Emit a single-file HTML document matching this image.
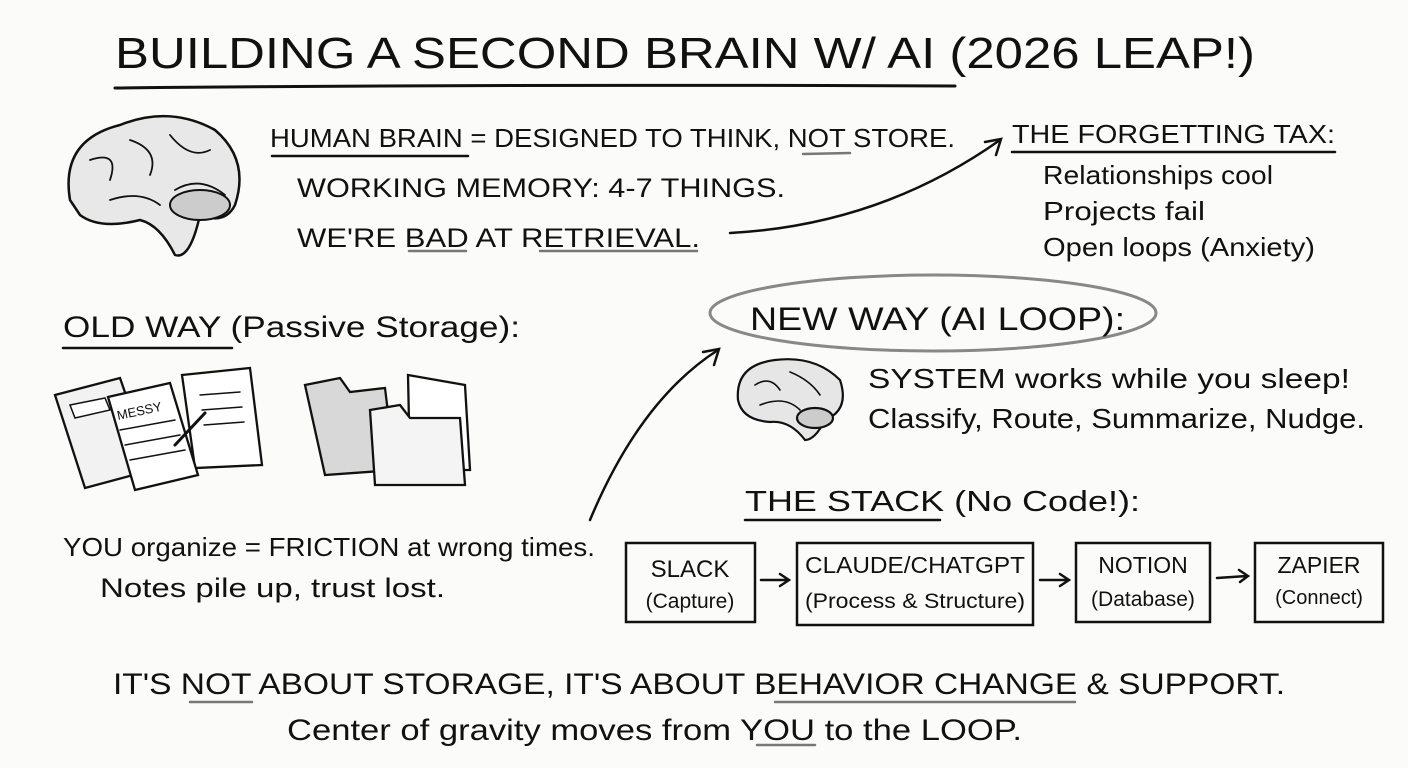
<!DOCTYPE html>
<html><head><meta charset="utf-8"><style>
html,body{margin:0;padding:0;background:#fbfbfa;}
svg{display:block}
text{font-family:"Liberation Sans",sans-serif;fill:#111;}
</style></head><body>
<svg width="1408" height="768" viewBox="0 0 1408 768" xmlns="http://www.w3.org/2000/svg">
<rect width="1408" height="768" fill="#fbfbfa"/>
<g stroke="#111" fill="none" stroke-linecap="round">
<!-- title -->
<path d="M115 88 Q500 84 955 86" stroke-width="3"/>
<!-- underlines -->
<path d="M272 156 L468 156" stroke-width="2.5"/>
<path d="M803 154 L850 153" stroke-width="2.5" stroke="#777"/>
<path d="M409 251 L466 251" stroke-width="2.5" stroke="#777"/>
<path d="M540 251 L697 251" stroke-width="2.5" stroke="#777"/>
<path d="M1012 152 L1335 152" stroke-width="2.5"/>
<path d="M63 348 L232 348" stroke-width="2.5"/>
<path d="M745 520 L940 520" stroke-width="2.5"/>
<path d="M190 702 L252 702" stroke-width="2.5" stroke="#777"/>
<path d="M775 702 L1075 702" stroke-width="2.5" stroke="#777"/>
<path d="M757 745 L815 745" stroke-width="2.5" stroke="#777"/>
<!-- arrows -->
<path d="M730 233 Q880 225 1000 140" stroke-width="2.5"/>
<path d="M985 142 L1001 139 L996 155" stroke-width="2.5"/>
<path d="M590 520 Q640 400 718 350" stroke-width="2.5"/>
<path d="M703 352 L719 349 L714 365" stroke-width="2.5"/>
<!-- ellipse -->
<ellipse cx="933" cy="313" rx="223" ry="38" stroke="#888" stroke-width="3"/>
<!-- stack boxes -->
<rect x="626" y="543" width="129" height="79" stroke-width="2.5"/>
<rect x="797" y="543" width="236" height="82" stroke-width="2.5"/>
<rect x="1076" y="543" width="134" height="79" stroke-width="2.5"/>
<rect x="1255" y="543" width="128" height="79" stroke-width="2.5"/>
<path d="M761 580 L788 580 M780 574 L789 580 L780 586" stroke-width="2.5"/>
<path d="M1040 580 L1068 580 M1060 574 L1069 580 L1060 586" stroke-width="2.5"/>
<path d="M1217 578 L1247 576 M1239 570 L1248 576 L1240 582" stroke-width="2.5"/>
<!-- brain 1 -->
<g stroke-width="2.5">
<path d="M70 200 Q60 140 120 125 Q170 105 215 130 Q250 160 235 205 Q225 225 200 215 Q190 260 175 255 Q160 225 140 220 Q100 230 80 215 Z" fill="#e8e8e8"/>
<path d="M90 160 Q120 150 110 180 M130 140 Q160 150 150 175 M170 135 Q190 160 210 150 M110 200 Q140 190 160 205 M175 190 Q200 175 225 195" stroke-width="1.8"/>
<ellipse cx="200" cy="205" rx="30" ry="15" fill="#ccc" stroke-width="2"/>
</g>
<!-- brain 2 -->
<g stroke-width="2.2">
<path d="M738 400 Q735 365 775 360 Q815 355 840 380 Q850 410 825 420 Q815 440 805 440 Q790 420 770 422 Q742 420 738 400 Z" fill="#e6e6e6"/>
<path d="M755 385 Q770 375 780 390 M790 372 Q810 380 820 395 M760 405 Q785 395 800 410" stroke-width="1.6"/>
<ellipse cx="815" cy="418" rx="18" ry="10" fill="#ccc"/>
</g>
<!-- notebooks -->
<g stroke-width="2.3" fill="#fff">
<path d="M55 395 L120 378 L152 470 L85 488 Z" fill="#f2f2f2"/>
<path d="M182 375 L250 368 L262 465 L195 468 Z"/>
<path d="M108 397 L170 383 L198 475 L135 490 Z"/>
<path d="M70 405 L105 398 L110 410 L75 418 Z" stroke-width="1.5"/>
<path d="M120 430 L175 420 M125 445 L180 435 M130 460 L185 450 M200 395 L240 392 M202 410 L242 407 M204 425 L244 422" stroke-width="1.5"/>
<path d="M175 445 L205 413" stroke-width="3"/>
</g>
<!-- folders -->
<g stroke-width="2.3">
<path d="M305 385 L340 378 L350 392 L385 388 L395 470 L325 475 Z" fill="#d8d8d8"/>
<path d="M408 375 L465 385 L470 470 L410 470 Z" fill="#fff"/>
<path d="M370 410 L400 405 L410 418 L460 418 L465 485 L375 485 Z" fill="#f4f4f4"/>
</g>
</g>
<g>
<text x="115" y="68" font-size="44" textLength="1140" lengthAdjust="spacingAndGlyphs">BUILDING A SECOND BRAIN W/ AI (2026 LEAP!)</text>
<text x="270" y="147" font-size="26" textLength="685" lengthAdjust="spacingAndGlyphs">HUMAN BRAIN = DESIGNED TO THINK, NOT STORE.</text>
<text x="297" y="197" font-size="27" textLength="488" lengthAdjust="spacingAndGlyphs">WORKING MEMORY: 4-7 THINGS.</text>
<text x="297" y="247" font-size="27" textLength="403" lengthAdjust="spacingAndGlyphs">WE'RE BAD AT RETRIEVAL.</text>
<text x="1012" y="143" font-size="26" textLength="323" lengthAdjust="spacingAndGlyphs">THE FORGETTING TAX:</text>
<text x="1043" y="184" font-size="26" textLength="230" lengthAdjust="spacingAndGlyphs">Relationships cool</text>
<text x="1043" y="220" font-size="26" textLength="162" lengthAdjust="spacingAndGlyphs">Projects fail</text>
<text x="1043" y="256" font-size="26" textLength="272" lengthAdjust="spacingAndGlyphs">Open loops (Anxiety)</text>
<text x="63" y="337" font-size="30" textLength="457" lengthAdjust="spacingAndGlyphs">OLD WAY (Passive Storage):</text>
<text x="750" y="330" font-size="32" textLength="375" lengthAdjust="spacingAndGlyphs">NEW WAY (AI LOOP):</text>
<text x="868" y="388" font-size="28" textLength="482" lengthAdjust="spacingAndGlyphs">SYSTEM works while you sleep!</text>
<text x="868" y="428" font-size="28" textLength="497" lengthAdjust="spacingAndGlyphs">Classify, Route, Summarize, Nudge.</text>
<text x="745" y="511" font-size="29" textLength="395" lengthAdjust="spacingAndGlyphs">THE STACK (No Code!):</text>
<text x="690" y="577" font-size="24" text-anchor="middle">SLACK</text>
<text x="690" y="608" font-size="21" text-anchor="middle">(Capture)</text>
<text x="915" y="573" font-size="23" text-anchor="middle" textLength="220" lengthAdjust="spacingAndGlyphs">CLAUDE/CHATGPT</text>
<text x="915" y="608" font-size="21" text-anchor="middle" textLength="220" lengthAdjust="spacingAndGlyphs">(Process &amp; Structure)</text>
<text x="1143" y="573" font-size="23" text-anchor="middle">NOTION</text>
<text x="1143" y="606" font-size="21" text-anchor="middle">(Database)</text>
<text x="1319" y="573" font-size="23" text-anchor="middle">ZAPIER</text>
<text x="1319" y="604" font-size="20" text-anchor="middle">(Connect)</text>
<text x="63" y="556" font-size="26" textLength="532" lengthAdjust="spacingAndGlyphs">YOU organize = FRICTION at wrong times.</text>
<text x="100" y="597" font-size="27" textLength="345" lengthAdjust="spacingAndGlyphs">Notes pile up, trust lost.</text>
<text x="113" y="694" font-size="30" textLength="1172" lengthAdjust="spacingAndGlyphs">IT'S NOT ABOUT STORAGE, IT'S ABOUT BEHAVIOR CHANGE &amp; SUPPORT.</text>
<text x="287" y="740" font-size="30" textLength="735" lengthAdjust="spacingAndGlyphs">Center of gravity moves from YOU to the LOOP.</text>
<text x="118" y="420" font-size="13" transform="rotate(-12 118 420)">MESSY</text>
</g>
</svg>
</body></html>
